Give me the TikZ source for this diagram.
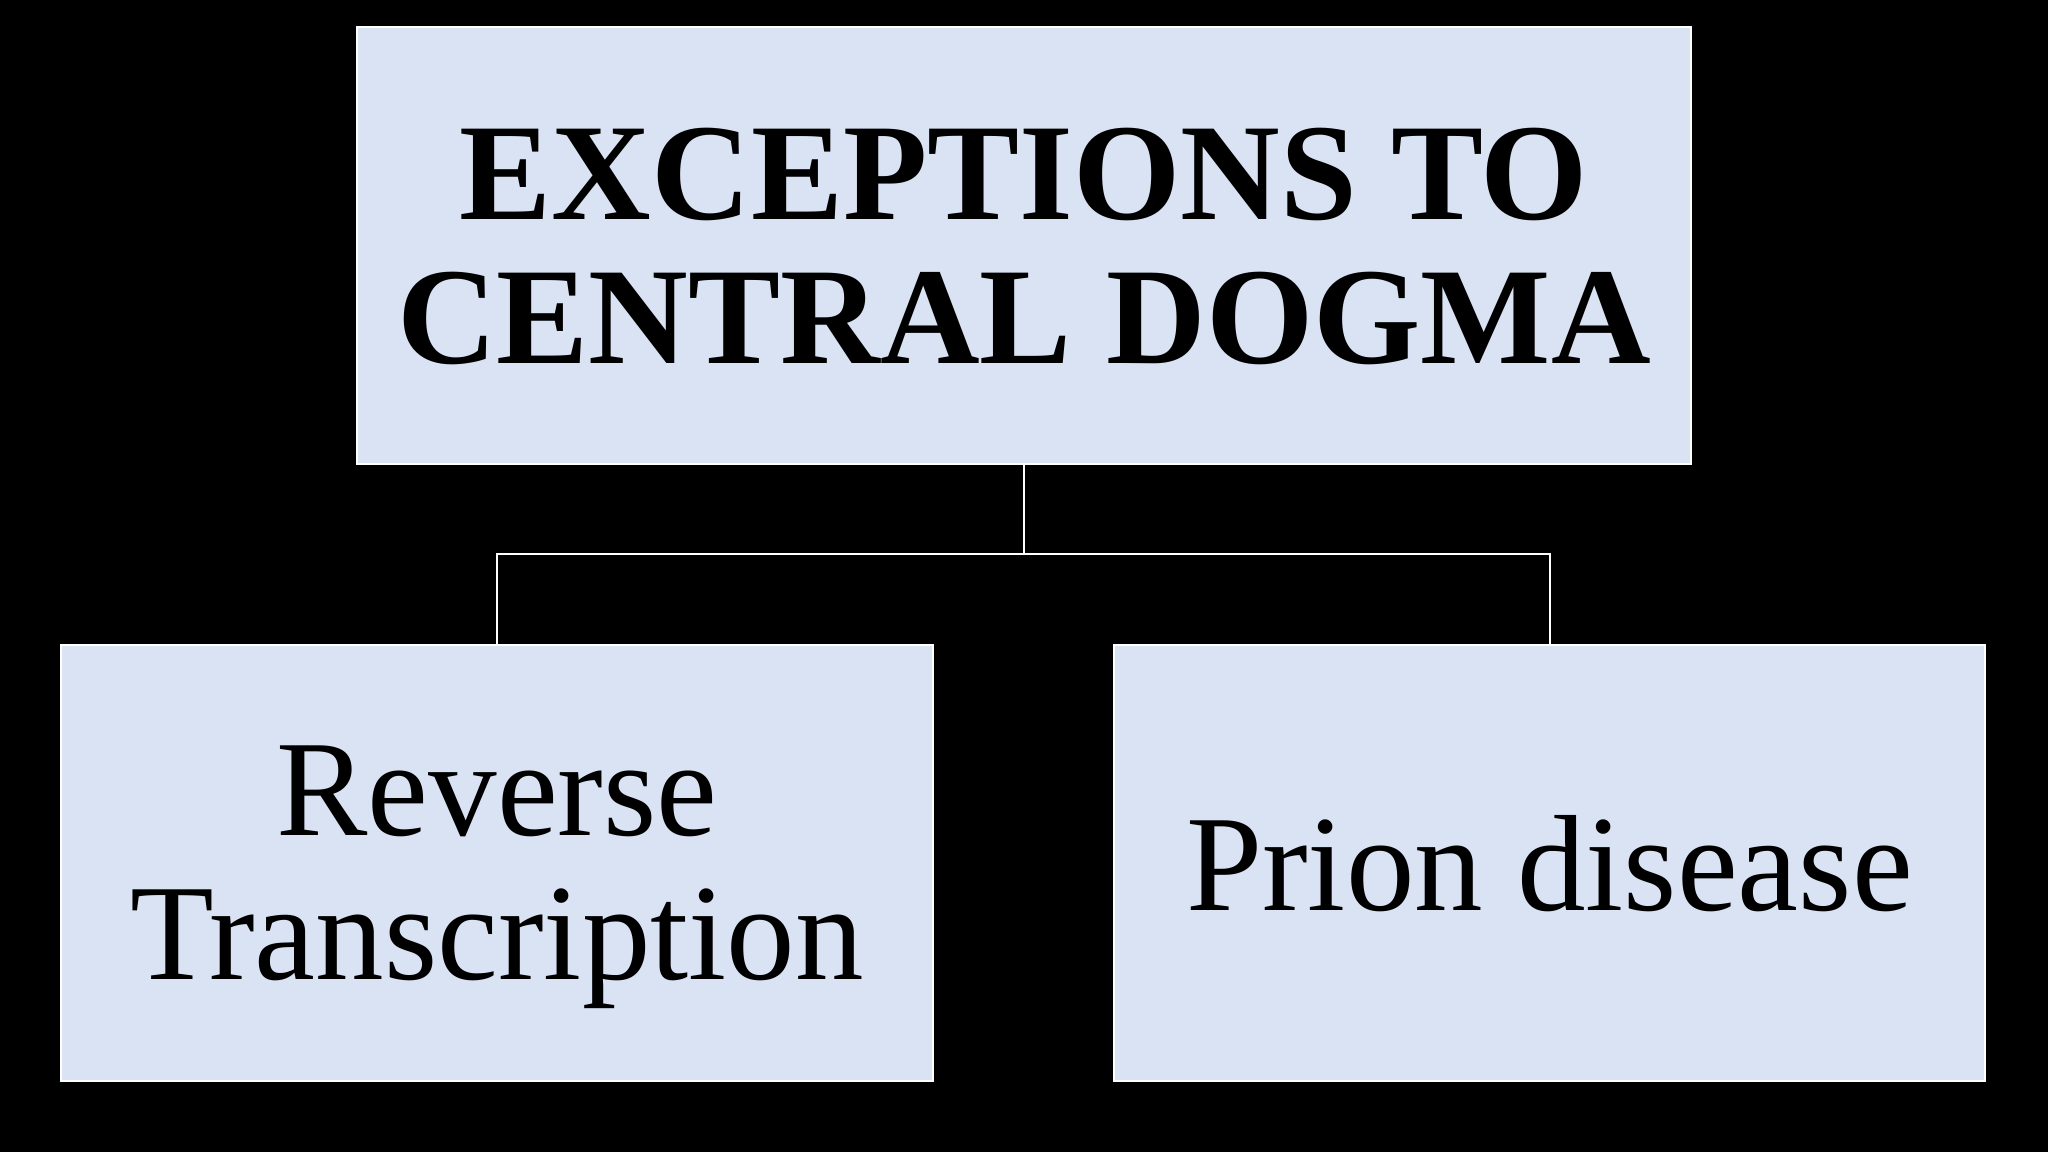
\documentclass[tikz,border=0pt]{standalone}
\usepackage{fontspec}
\setmainfont{Liberation Serif}
\definecolor{boxfill}{HTML}{DAE3F3}

\begin{document}
\begin{tikzpicture}[x=1pt,y=-1pt]

        \fill[black] (0,0) rectangle (2048,1152);
        \useasboundingbox (0,0) rectangle (2048,1152);

        \begin{scope}[every node/.style={rectangle,draw=white,line width=2pt,fill=boxfill,
            align=center,text depth=0pt,inner sep=0pt}]
          \node[minimum width=1334pt,minimum height=437pt,
            font=\fontsize{138}{144}\selectfont\bfseries] (top) at (1024,245.5)
            {EXCEPTIONS TO\\CENTRAL DOGMA};
          \node[minimum width=872pt,minimum height=436pt,
            font=\fontsize{137}{144}\selectfont] (rt) at (497,863)
            {Reverse\\Transcription};
          \node[minimum width=871pt,minimum height=436pt,
            font=\fontsize{137}{144}\selectfont] (pd) at (1549.5,863)
            {Prion disease};
        \end{scope}

        \coordinate (mid) at (1024,554);

        \begin{scope}[every path/.style={draw=white,line width=2pt}]
          \path (top.south) -- (mid);
          \path (rt.north) |- (mid) -| (pd.north);
        \end{scope}

      \end{tikzpicture}
\end{document}
